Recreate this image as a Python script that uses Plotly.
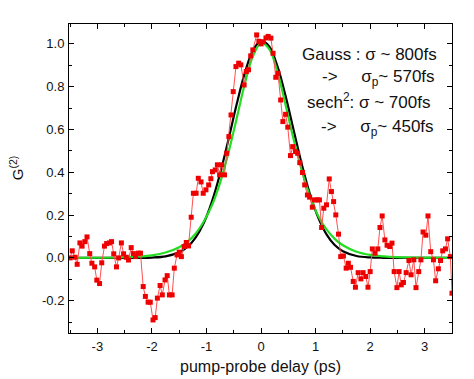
import plotly.graph_objects as go

# ---- measured data (pump-probe delay in ps, G2) ----
delay_ps = [
    -3.50, -3.46, -3.41, -3.37, -3.32, -3.28, -3.23, -3.19, -3.14, -3.10,
    -3.05, -3.01, -2.96, -2.92, -2.87, -2.83, -2.78, -2.74, -2.70, -2.65,
    -2.61, -2.56, -2.52, -2.47, -2.43, -2.38, -2.34, -2.30, -2.25, -2.21,
    -2.16, -2.12, -2.07, -2.03, -1.98, -1.94, -1.90, -1.85, -1.81, -1.76,
    -1.72, -1.68, -1.63, -1.59, -1.54, -1.50, -1.46, -1.41, -1.37, -1.33,
    -1.28, -1.24, -1.19, -1.15, -1.10, -1.06, -1.01, -0.96, -0.92, -0.89,
    -0.84, -0.80, -0.76, -0.72, -0.67, -0.63, -0.59, -0.55, -0.51, -0.46,
    -0.41, -0.37, -0.31, -0.27, -0.23, -0.19, -0.15, -0.08, -0.04, 0.00,
    0.04, 0.09, 0.13, 0.18, 0.22, 0.27, 0.31, 0.36, 0.40, 0.45,
    0.49, 0.54, 0.58, 0.63, 0.67, 0.71, 0.76, 0.80, 0.85, 0.89,
    0.94, 0.98, 1.03, 1.07, 1.11, 1.15, 1.20, 1.25, 1.29, 1.33,
    1.37, 1.42, 1.46, 1.51, 1.56, 1.60, 1.64, 1.69, 1.73, 1.78,
    1.83, 1.87, 1.92, 1.96, 2.00, 2.04, 2.09, 2.14, 2.18, 2.22,
    2.27, 2.31, 2.36, 2.40, 2.44, 2.49, 2.53, 2.57, 2.61, 2.66,
    2.71, 2.75, 2.80, 2.84, 2.89, 2.93, 2.97, 3.02, 3.06, 3.11,
    3.16, 3.20, 3.25, 3.29, 3.33, 3.38, 3.42, 3.47, 3.50,
]
g2_measured = [
    0.000, 0.033, 0.003, -0.030, 0.070, 0.055, 0.076, 0.098, 0.020, -0.025,
    -0.042, -0.104, -0.120, -0.023, 0.055, 0.067, 0.070, 0.076, 0.019, -0.042,
    0.000, 0.070, 0.019, 0.003, -0.010, 0.048, 0.020, 0.006, 0.022, 0.022,
    -0.134, -0.180, -0.207, -0.207, -0.290, -0.279, -0.188, -0.129, -0.173, -0.103,
    -0.083, -0.173, -0.173, -0.048, 0.014, 0.027, 0.006, 0.053, 0.072, 0.056,
    0.190, 0.302, 0.302, 0.372, 0.355, 0.302, 0.318, 0.341, 0.370, 0.403,
    0.411, 0.435, 0.388, 0.435, 0.388, 0.489, 0.567, 0.668, 0.777, 0.894,
    0.910, 0.902, 0.808, 0.871, 0.879, 0.944, 0.972, 1.042, 1.012, 1.000,
    1.010, 1.028, 1.035, 1.027, 0.956, 0.844, 0.863, 0.738, 0.637, 0.671,
    0.611, 0.478, 0.520, 0.497, 0.489, 0.445, 0.399, 0.341, 0.294, 0.284,
    0.237, 0.271, 0.271, 0.271, 0.142, 0.232, 0.248, 0.369, 0.310, 0.263,
    0.201, 0.111, 0.006, 0.009, -0.048, -0.025, -0.044, -0.110, -0.137, -0.069,
    -0.098, -0.069, -0.087, -0.137, -0.064, 0.042, 0.022, 0.042, 0.142, 0.196,
    0.084, 0.059, 0.053, 0.069, -0.064, -0.139, -0.064, -0.126, -0.115, -0.069,
    -0.012, -0.079, -0.009, -0.139, -0.064, -0.009, 0.121, 0.106, 0.196, 0.029,
    -0.009, -0.107, -0.051, -0.012, 0.033, 0.042, 0.089, 0.006, -0.165,
]

# ---- fit curves, values ----
fit_delay_ps = [
    -3.5, -3.0, -2.5, -2.25, -2.0, -1.75, -1.5, -1.35, -1.2, -1.05, -0.9,
    -0.75, -0.6, -0.45, -0.3, -0.15, 0.0, 0.15, 0.3, 0.45, 0.6, 0.75, 0.9,
    1.05, 1.2, 1.35, 1.5, 1.75, 2.0, 2.25, 2.5, 3.0, 3.5,
]
gauss_fit = [
    0.000, 0.000, 0.000, 0.0003, 0.0015, 0.007, 0.026, 0.051, 0.095, 0.163, 0.263,
    0.394, 0.550, 0.714, 0.862, 0.969, 1.014, 0.988, 0.896, 0.756, 0.594, 0.434, 0.295,
    0.187, 0.110, 0.060, 0.031, 0.009, 0.002, 0.0004, 0.000, 0.000, 0.000,
]
sech2_fit = [
    0.0002, 0.0007, 0.003, 0.006, 0.012, 0.025, 0.050, 0.075, 0.113, 0.170, 0.246,
    0.352, 0.489, 0.648, 0.811, 0.942, 1.003, 0.976, 0.869, 0.715, 0.551, 0.405, 0.286,
    0.195, 0.133, 0.089, 0.059, 0.029, 0.014, 0.007, 0.0035, 0.0008, 0.0002,
]

x_tick_vals = [-3, -2, -1, 0, 1, 2, 3]
x_tick_text = ["-3", "-2", "-1", "0", "1", "2", "3"]
y_tick_vals = [-0.2, 0.0, 0.2, 0.4, 0.6, 0.8, 1.0]
y_tick_text = ["-0.2", "0.0", "0.2", "0.4", "0.6", "0.8", "1.0"]

annotation_lines = [
    "Gauss : σ ~ 800fs",
    "->     σ<sub>p</sub>~ 570fs",
    "sech<sup>2</sup>: σ ~ 700fs",
    "->     σ<sub>p</sub>~ 450fs",
]

FONT = "Liberation Sans, Arial, sans-serif"
TXT = "#111111"

fig = go.Figure()
fig.add_trace(go.Scatter(
    x=fit_delay_ps, y=gauss_fit, mode="lines", line_shape="spline",
    line=dict(color="#000000", width=2.2), showlegend=False, hoverinfo="skip"))
fig.add_trace(go.Scatter(
    x=fit_delay_ps, y=sech2_fit, mode="lines", line_shape="spline",
    line=dict(color="#22dd22", width=2.2), showlegend=False, hoverinfo="skip"))
fig.add_trace(go.Scatter(
    x=delay_ps, y=g2_measured, mode="lines+markers",
    line=dict(color="#ff5050", width=1),
    marker=dict(symbol="square", size=5, color="#ee0000", line=dict(width=0)),
    showlegend=False))

ann_y = [0.900, 0.825, 0.750, 0.662]
ann_x = [0.965, 0.96, 0.949, 0.957]
for txt, yy, xx in zip(annotation_lines, ann_y, ann_x):
    fig.add_annotation(text=txt, xref="paper", yref="paper", x=xx, y=yy,
                       xanchor="right", yanchor="middle", showarrow=False,
                       font=dict(family=FONT, size=17, color=TXT))

# y-axis title placed as rotated text
fig.add_annotation(text="G<sup>(2)</sup>", xref="paper", yref="paper",
                   x=-0.137, y=0.535, xanchor="center", yanchor="middle",
                   textangle=-90, showarrow=False, borderpad=0,
                   font=dict(family=FONT, size=15, color=TXT))

axis_common = dict(
    showline=True, linecolor="black", linewidth=1, mirror="allticks",
    ticks="inside", ticklen=5, tickwidth=1, tickcolor="black",
    showgrid=False, zeroline=False, automargin=False,
    tickfont=dict(family=FONT, size=13, color=TXT),
)

fig.update_xaxes(
    range=[-3.52, 3.5], tickmode="array", tickvals=x_tick_vals, ticktext=x_tick_text,
    minor=dict(ticks="inside", dtick=0.5, tick0=0, ticklen=3, tickcolor="black"),
    ticklabelstandoff=1,
    title=dict(text="pump-probe delay (ps)", font=dict(family=FONT, size=16, color=TXT),
               standoff=8),
    **axis_common)
fig.update_yaxes(
    range=[-0.351, 1.093], tickmode="array", tickvals=y_tick_vals, ticktext=y_tick_text,
    minor=dict(ticks="inside", dtick=0.1, tick0=0, ticklen=3, tickcolor="black"),
    ticklabelstandoff=1,
    **axis_common)

# page body adds an 8px offset; size the figure to fill the 474x379 window
fig.update_layout(
    width=466, height=371,
    margin=dict(l=61, r=22, t=16, b=46),
    paper_bgcolor="white", plot_bgcolor="white",
)

fig.write_html("out.html")
